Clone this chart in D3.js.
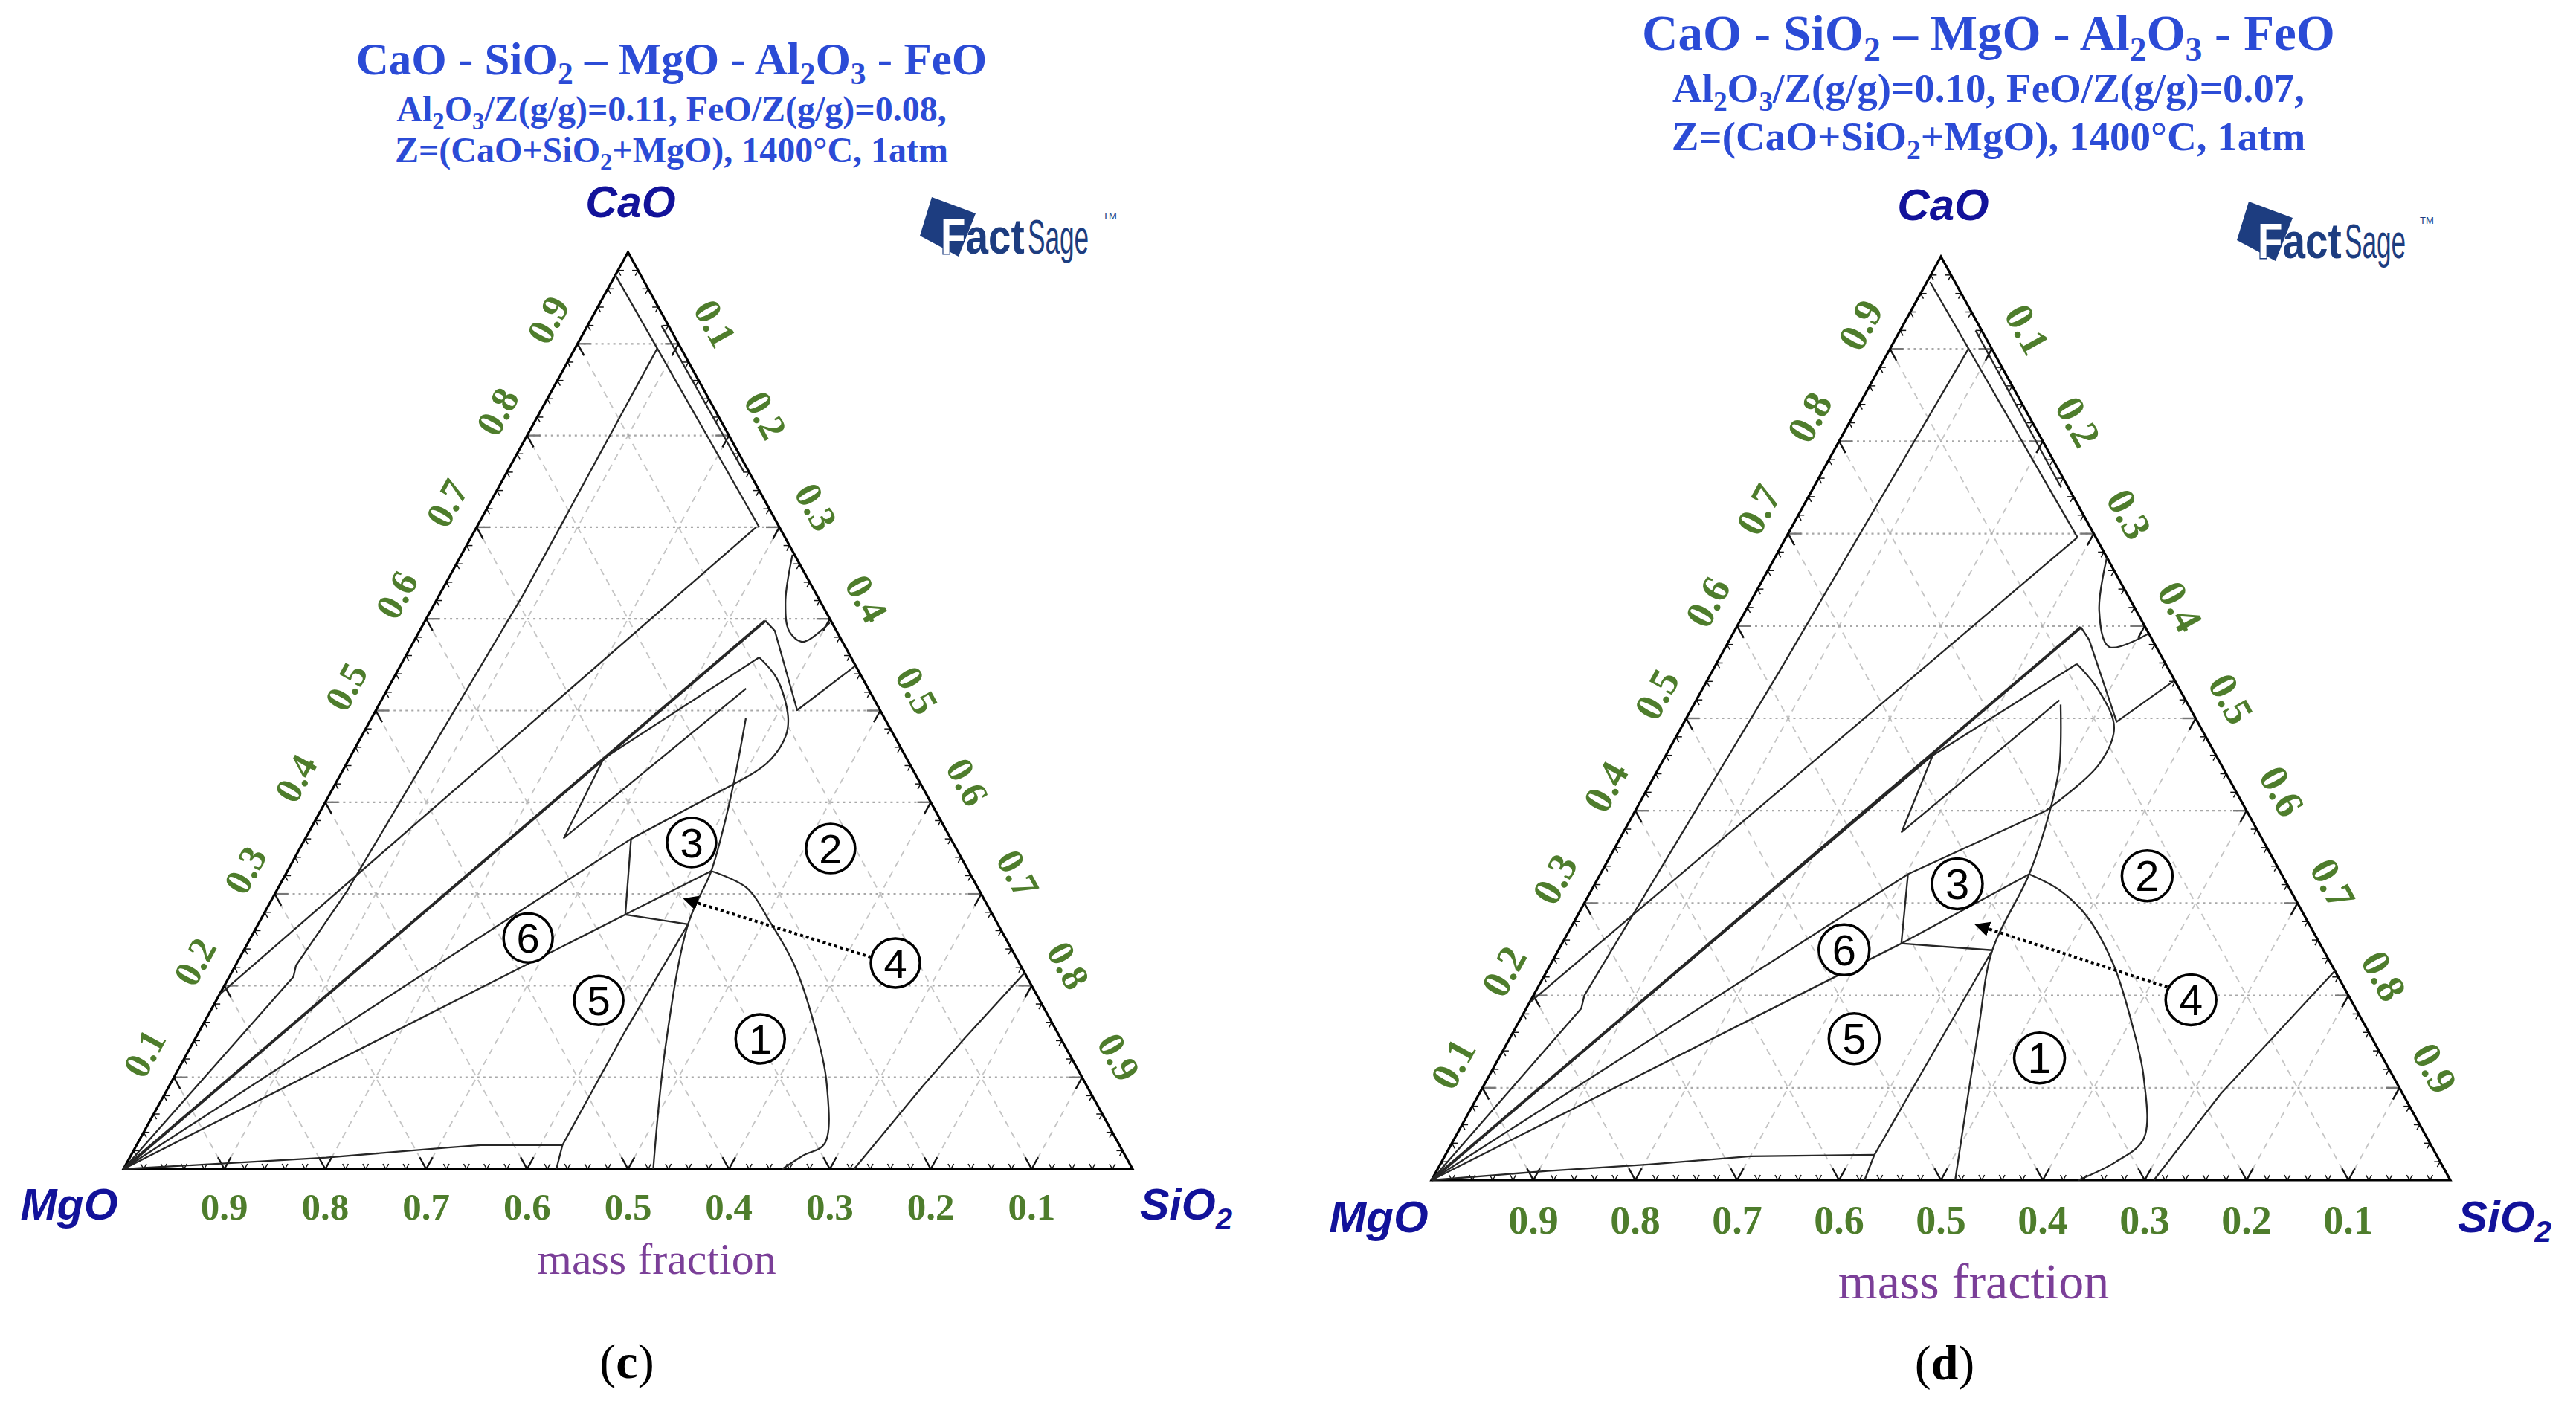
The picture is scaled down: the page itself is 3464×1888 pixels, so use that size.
<!DOCTYPE html>
<html><head><meta charset="utf-8">
<script src="https://cdn.jsdelivr.net/npm/d3@7/dist/d3.min.js"></script>
<style>html,body{margin:0;padding:0;background:#fff;}svg{display:block;}</style>
</head><body>
<svg id="chart" width="3464" height="1888"></svg>
<script>
// ---------------- DATA (compositions as [CaO, SiO2] mass fractions; MgO = 1 - CaO - SiO2) ----------------
const tickValues = [0.1,0.2,0.3,0.4,0.5,0.6,0.7,0.8,0.9];
const cornerNames = ["CaO","MgO","SiO_2"];
const regionNames = ["1","2","3","4","5","6"];

const titleC = ["CaO - SiO_2 – MgO - Al_2O_3 - FeO","Al_2O_3/Z(g/g)=0.11, FeO/Z(g/g)=0.08,","Z=(CaO+SiO_2+MgO), 1400°C, 1atm"];
const titleD = ["CaO - SiO_2 – MgO - Al_2O_3 - FeO","Al_2O_3/Z(g/g)=0.10, FeO/Z(g/g)=0.07,","Z=(CaO+SiO_2+MgO), 1400°C, 1atm"];

// ---- panel (c) ----
const cLine1   = [[0.975,0.0],[0.70,0.28]];
const cEdge    = [[0.92,0.073],[0.76,0.235]];
const cLineA   = [[0.895,0.0815],[0.626,0.083],[0.303,0.070],[0.222,0.060],[0.2097,0.0636],[0,0]];
const cLineB   = [[0.70,0.277],[0.19,0.0]];
const cThick   = [[0.598,0.337],[0,0]];
const cT2Line  = [[0.558,0.351],[0.45,0.254],[0,0]];
const cZig     = [[0.4477,0.252],[0.361,0.256],[0.524,0.355]];
const cVLine   = [[0.598,0.337],[0.587,0.352],[0.5004,0.4174],[0.549,0.451]];
const cLoop    = [[0.67,0.328],[0.618,0.347],[0.586,0.367],[0.575,0.386],[0.596,0.402]];
const cCurve2  = [[0.558,0.351],[0.535,0.38],[0.495,0.411],[0.473,0.42],[0.444,0.417],[0.4225,0.398]];
const cLine2   = [[0.4225,0.398],[0.36,0.323],[0,0]];
const cReg3L   = [[0.36,0.323],[0.2775,0.3586]];
const cLine6   = [[0,0],[0.2775,0.3586],[0.325,0.42]];
const cReg4B   = [[0.2775,0.3586],[0.267,0.426]];
const cSteep   = [[0.4915,0.371],[0.4218,0.394],[0.3666,0.41],[0.325,0.42],[0.267,0.426],[0.1333,0.4705],[0,0.525]];
const cLine5   = [[0.267,0.426],[0.15,0.422],[0.026,0.422],[0,0.429]];
const cBottom  = [[0,0],[0.0124,0.195],[0.0235,0.31],[0.026,0.341],[0.026,0.422]];
const cCurve1  = [[0.325,0.42],[0.307,0.4637],[0.269,0.5065],[0.222,0.554],[0.1545,0.608],[0.0908,0.6517],[0.0276,0.681],[0.0146,0.666],[0,0.653]];
const cRight   = [[0,0.724],[0.0908,0.747],[0.1418,0.762],[0.214,0.786]];
const cArrow   = [[0.231,0.6254],[0.2936,0.412]];
const cLabelPos = [[0.142,0.560],[0.3495,0.526],[0.356,0.385],[0.2247,0.6526],[0.184,0.379],[0.252,0.275]];

// ---- panel (d) ----
const dLine1   = [[0.9726,0.003],[0.696,0.286]];
const dEdge    = [[0.92,0.074],[0.75,0.243]];
const dLineA   = [[0.90,0.077],[0.55,0.066],[0.20,0.050],[0.186,0.054],[0,0]];
const dLineB   = [[0.696,0.286],[0.192,0.0]];
const dThick   = [[0.5987,0.338],[0,0]];
const dT2Line  = [[0.559,0.354],[0.46,0.262],[0,0]];
const dZig     = [[0.46,0.262],[0.377,0.273],[0.5197,0.3565]];
const dVLine   = [[0.5987,0.338],[0.585,0.353],[0.4963,0.4243],[0.5412,0.4588]];
const dLoop    = [[0.6742,0.3258],[0.6167,0.347],[0.5773,0.3766],[0.5918,0.408]];
const dCurve2  = [[0.559,0.354],[0.53,0.39],[0.49,0.425],[0.45,0.43],[0.40,0.403]];
const dLine2   = [[0.40,0.403],[0.3313,0.302],[0,0]];
const dReg3L   = [[0.3313,0.302],[0.2563,0.333]];
const dLine6   = [[0,0],[0.2563,0.333],[0.3313,0.421]];
const dReg4B   = [[0.2563,0.333],[0.249,0.426]];
const dSteep   = [[0.515,0.36],[0.4485,0.392],[0.40,0.407],[0.3313,0.421],[0.249,0.426],[0.1637,0.455],[0,0.514]];
const dLine5   = [[0.249,0.426],[0.12,0.423],[0.027,0.421],[0,0.425]];
const dBottom  = [[0,0],[0.01,0.109],[0.017,0.2046],[0.0258,0.30],[0.0275,0.421]];
const dCurve1  = [[0.3313,0.421],[0.314,0.4595],[0.286,0.50],[0.2335,0.5526],[0.1637,0.607],[0.1113,0.6434],[0.045,0.6766],[0.02,0.662],[0,0.635]];
const dRight   = [[0,0.709],[0.094,0.728],[0.2266,0.7734]];
const dArrow   = [[0.209,0.6178],[0.2754,0.3995]];
const dLabelPos = [[0.1323,0.5306],[0.3295,0.5377],[0.3209,0.3556],[0.1952,0.6478],[0.1532,0.3382],[0.2493,0.2803]];

// ---------------- DRAWING ----------------
const svg = d3.select("#chart");
const SERIF = "'Liberation Serif','Times New Roman',serif";
const SANS = "'Liberation Sans',Arial,sans-serif";
const BLUE_T = "#2b4bd6", NAVY = "#12129a", GREEN = "#4e7d2c", PURPLE = "#7b3f98", LOGO = "#1d3d80";

const defs = svg.append("defs");
defs.append("marker").attr("id","arr").attr("viewBox","0 0 10 10").attr("refX",7).attr("refY",5)
  .attr("markerWidth",5).attr("markerHeight",5).attr("orient","auto")
  .append("path").attr("d","M0,0 L10,5 L0,10 z").attr("fill","#000");

function rich(sel, str, size) {
  const parts = str.split(/_(\d)/);
  let shift = 0;
  parts.forEach((p,i) => {
    if (!p) return;
    const t = sel.append("tspan").text(p);
    if (i % 2 === 1) { t.attr("font-size", size*0.68).attr("dy", size*0.22); shift = size*0.22; }
    else if (shift) { t.attr("dy", -shift); shift = 0; }
  });
}

function drawLogo(x0, y0) {
  const g = svg.append("g").attr("transform",`translate(${x0},${y0})`);
  g.append("polygon").attr("points","16,0 75,22 52,80 0,52").attr("fill",LOGO);
  const f = g.append("text").attr("transform","translate(28,76) scale(0.83,1)").attr("font-family",SANS)
    .attr("font-weight","bold").attr("font-size",66);
  f.append("tspan").attr("fill","#fff").attr("stroke",LOGO).attr("stroke-width",3).attr("paint-order","stroke").text("F");
  f.append("tspan").attr("fill",LOGO).text("act");
  g.append("text").attr("transform","translate(145,76) scale(0.55,1)").attr("font-family",SANS)
    .attr("font-size",64).attr("fill",LOGO).text("Sage");
  g.append("text").attr("x",246).attr("y",30).attr("font-family",SANS)
    .attr("font-size",13).attr("fill",LOGO).text("TM");
}

function panel(cfg) {
  const g = svg.append("g");
  const x = d3.scaleLinear().domain([0,1]).range([cfg.x0, cfg.x1]);
  const y = d3.scaleLinear().domain([0,1]).range([cfg.yb, cfg.ya]);
  const P = d => [x(d[1] + d[0]/2), y(d[0])];
  const seg = (par, a, b) => par.append("line").attr("x1",a[0]).attr("y1",a[1]).attr("x2",b[0]).attr("y2",b[1]);

  // grid
  const grid = g.append("g").attr("fill","none");
  tickValues.forEach(v => {
    seg(grid, P([0,v]), P([1-v,v])).attr("stroke","#c4c4c4").attr("stroke-width",1.8).attr("stroke-dasharray","9,7");
    seg(grid, P([0,1-v]), P([1-v,0])).attr("stroke","#c4c4c4").attr("stroke-width",1.8).attr("stroke-dasharray","9,7");
    seg(grid, P([v,0]), P([v,1-v])).attr("stroke","#a8a8a8").attr("stroke-width",2.2).attr("stroke-dasharray","3,5");
  });

  // ticks
  const tk = g.append("g").attr("stroke","#111");
  const dirv = (base, dc, ds) => {
    const a = P(base), b = P([base[0]+dc*0.01, base[1]+ds*0.01]);
    const dx = b[0]-a[0], dy = b[1]-a[1], L = Math.hypot(dx,dy);
    return [dx/L, dy/L];
  };
  d3.range(1,50).forEach(k => {
    const f = k/50, major = k % 5 === 0, len = major ? 18 : 8;
    const edges = [
      {b:[f,0], d:[[0,1],[-1,1]]},
      {b:[0,f], d:[[1,0],[1,-1]]},
      {b:[f,1-f], d:[[0,-1],[-1,0]]}
    ];
    edges.forEach(e => {
      const a = P(e.b);
      e.d.forEach(dd => {
        const u = dirv(e.b, dd[0], dd[1]);
        seg(tk, a, [a[0]+u[0]*len, a[1]+u[1]*len]).attr("stroke-width", major ? 2.4 : 1.5)
          .attr("stroke", major && dd[0]===0 ? "#777" : "#111");
      });
    });
  });

  // triangle frame
  g.append("path").attr("d", d3.line()([P([1,0]),P([0,0]),P([0,1])]) + "Z")
    .attr("fill","none").attr("stroke","#000").attr("stroke-width",3.2).attr("stroke-linejoin","miter");

  // phase boundaries
  const lin = d3.line().x(d=>P(d)[0]).y(d=>P(d)[1]);
  const cur = d3.line().x(d=>P(d)[0]).y(d=>P(d)[1]).curve(d3.curveCatmullRom.alpha(0.5));
  const pl = g.append("g").attr("fill","none").attr("stroke","#262626").attr("stroke-linejoin","round");
  cfg.straight.forEach(l => pl.append("path").attr("d", lin(l)).attr("stroke-width",2.3));
  cfg.curved.forEach(l => pl.append("path").attr("d", cur(l)).attr("stroke-width",2.3));
  cfg.thick.forEach(l => pl.append("path").attr("d", lin(l)).attr("stroke-width",4));

  // arrow
  const a0 = P(cfg.arrow[0]), a1 = P(cfg.arrow[1]);
  seg(g, a0, a1).attr("stroke","#000").attr("stroke-width",4).attr("stroke-dasharray","4,4")
    .attr("marker-end","url(#arr)");

  // region labels
  regionNames.forEach((n,i) => {
    const p = P(cfg.labels[i]);
    const lg = g.append("g").attr("transform",`translate(${p[0]},${p[1]})`);
    lg.append("circle").attr("r",cfg.r).attr("fill","#fff").attr("stroke","#000").attr("stroke-width",3.5);
    lg.append("text").attr("text-anchor","middle").attr("y",cfg.r*0.6).attr("font-family",SANS)
      .attr("font-size",cfg.r*1.7).attr("fill","#000").text(n);
  });

  // axis labels
  const fmt = d3.format(".1f");
  const uL = dirv([0,0],1,0), uR = dirv([1,0],-1,1);
  const angL = Math.atan2(uL[1],uL[0])*180/Math.PI, angR = Math.atan2(uR[1],uR[0])*180/Math.PI;
  const tg = g.append("g").attr("font-family",SERIF).attr("font-weight","bold").attr("fill",GREEN)
    .attr("font-size",cfg.tickFont).attr("text-anchor","middle");
  tickValues.forEach(v => {
    let e = P([v,0]);
    let c = [e[0] + uL[1]*cfg.offL + uL[0]*9, e[1] - uL[0]*cfg.offL + uL[1]*9];
    tg.append("text").attr("transform",`translate(${c[0]},${c[1]}) rotate(${angL})`)
      .attr("dominant-baseline","central").text(fmt(v));
    e = P([1-v,v]);
    c = [e[0] + uR[1]*cfg.offR, e[1] - uR[0]*cfg.offR];
    tg.append("text").attr("transform",`translate(${c[0]},${c[1]}) rotate(${angR})`)
      .attr("dominant-baseline","central").text(fmt(v));
    e = P([0,1-v]);
    tg.append("text").attr("x",e[0]).attr("y",cfg.bottomBase).text(fmt(v));
  });

  // corner labels
  const cg = g.append("g").attr("font-family",SANS).attr("font-weight","bold").attr("font-style","italic")
    .attr("fill",NAVY).attr("font-size",cfg.cornerFont);
  rich(cg.append("text").attr("x",cfg.caoX).attr("y",cfg.caoY).attr("text-anchor","middle"), cornerNames[0], cfg.cornerFont);
  rich(cg.append("text").attr("x",cfg.mgoX).attr("y",cfg.cornerBase).attr("text-anchor","middle"), cornerNames[1], cfg.cornerFont);
  rich(cg.append("text").attr("x",cfg.sioX).attr("y",cfg.cornerBase).attr("text-anchor","start"), cornerNames[2], cfg.cornerFont);

  // mass fraction
  g.append("text").attr("x",cfg.mfX).attr("y",cfg.mfY).attr("text-anchor","middle").attr("font-family",SERIF)
    .attr("font-size",cfg.mfFont).attr("fill",PURPLE).text("mass fraction");

  // title
  cfg.title.forEach((t,i) => {
    const tt = g.append("text").attr("x",cfg.titleX).attr("y",cfg.titleY[i]).attr("text-anchor","middle")
      .attr("font-family",SERIF).attr("font-weight","bold").attr("fill",BLUE_T).attr("font-size",cfg.titleFont[i]);
    rich(tt, t, cfg.titleFont[i]);
  });

  // caption
  const cap = g.append("text").attr("x",cfg.capX).attr("y",cfg.capY).attr("text-anchor","middle")
    .attr("font-family",SERIF).attr("font-size",66).attr("fill","#000");
  cap.append("tspan").text("(");
  cap.append("tspan").attr("font-weight","bold").text(cfg.capLetter);
  cap.append("tspan").text(")");
}

panel({
  x0:166, x1:1523, yb:1572, ya:339,
  straight:[cLine1,cEdge,cLineA,cLineB,cT2Line,cZig,cVLine,cLine2,cReg3L,cLine6,cReg4B,cLine5,cBottom,cRight],
  curved:[cLoop,cCurve2,cSteep,cCurve1],
  thick:[cThick],
  arrow:cArrow, labels:cLabelPos, r:33,
  tickFont:51, offL:50, offR:56, bottomBase:1640,
  cornerFont:59, caoX:848, caoY:292, mgoX:93, sioX:1533, cornerBase:1640,
  mfX:883, mfY:1713, mfFont:60,
  title:titleC, titleX:903, titleY:[100,163,218], titleFont:[61,48,48],
  capX:843, capY:1853, capLetter:"c"
});
panel({
  x0:1925, x1:3295, yb:1587, ya:345,
  straight:[dLine1,dEdge,dLineA,dLineB,dT2Line,dZig,dVLine,dLine2,dReg3L,dLine6,dReg4B,dLine5,dBottom,dRight],
  curved:[dLoop,dCurve2,dSteep,dCurve1],
  thick:[dThick],
  arrow:dArrow, labels:dLabelPos, r:34,
  tickFont:54, offL:50, offR:54, bottomBase:1659,
  cornerFont:60, caoX:2613, caoY:296, mgoX:1854, sioX:3305, cornerBase:1657,
  mfX:2654, mfY:1746, mfFont:68,
  title:titleD, titleX:2674, titleY:[67,137,202], titleFont:[67,55,55],
  capX:2615, capY:1855, capLetter:"d"
});
drawLogo(1237, 265);
drawLogo(3008, 271);
</script>
</body></html>
